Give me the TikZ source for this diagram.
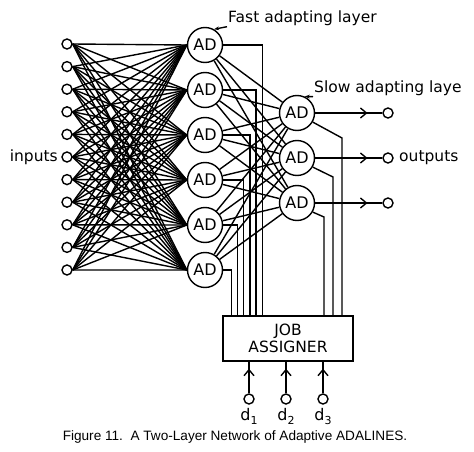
\documentclass[tikz,border=0pt]{standalone}
\usepackage{fontspec}
\setmainfont{DejaVu Sans}
\newfontfamily\capfont{Liberation Sans}
\usetikzlibrary{positioning,calc,arrows.meta,decorations.markings}

\tikzset{
    unit/.style={circle, draw, line width=1.4pt, minimum size=35pt, inner sep=0pt, font=\fontsize{16}{16}\selectfont},
    port/.style={circle, draw, line width=1.4pt, minimum size=10pt, inner sep=0pt},
    wire/.style={line width=1.4pt},
    midarr/.style={postaction={decorate}, decoration={markings,
        mark=at position #1 with {\arrow{Straight Barb[length=6pt,width=10pt,line width=1.4pt]}}}}
}

\begin{document}
\begin{tikzpicture}[x=1pt, y=-1pt, font=\fontsize{15.5}{15.5}\selectfont]
        \useasboundingbox (0,0) rectangle (474,452);

        % inputs and fast adapting layer
        \foreach \i in {1,...,11}
            \node[port] (in\i) at (67,{44+22.6*(\i-1)}) {};
        \foreach \j in {1,...,6}
            \node[unit] (f\j) at (205,{45*\j}) {AD};
        \foreach \i in {1,...,11}
            \foreach \j in {1,...,6}
                \draw[wire] (in\i.east) -- (f\j.west);
        \node[left=0pt of in6] (inlabel) {inputs};
        \node[anchor=west, inner sep=1pt] (fastlabel) at (227,18) {Fast adapting layer};
        \draw[wire, -{Stealth[length=5pt]}] (fastlabel.south west) -- (f1.60);

        % slow adapting layer
        \foreach \k/\y in {1/113, 2/158, 3/203} {
            \node[unit] (s\k) at (297,\y) {AD};
            \node[port] (o\k) at (388,\y) {};
            \draw[wire, midarr=0.78] (s\k.east) -- (o\k.west);
        }
        \foreach \i in {1,...,6}
            \foreach \k in {1,2,3}
                \draw[wire] (f\i) -- (s\k);
        \node[right=2pt of o2] (outlabel) {outputs};
        \node[anchor=west, inner sep=1pt] (slowlabel) at (313,88) {Slow adapting laye};
        \draw[wire, -{Stealth[length=5pt]}] (slowlabel.south west) -- (s1.65);

        % job assigner
        \node[draw, line width=1.4pt, minimum width=130pt, minimum height=45pt, align=center,
              font=\fontsize{15.5}{16.5}\selectfont] (job) at (288,338.5) {JOB\\ASSIGNER};
        \foreach \i in {1,...,6} {
            \path (job.north west) ++({9+6.2*(6-\i)},0) coordinate (t\i);
            \draw[wire] (f\i.east) -| (t\i);
        }
        \foreach \k/\dx/\dy in {1/45/25, 2/36/19, 3/27/14} {
            \path (s\k) ++(\dx,\dy) coordinate (b\k);
            \draw[wire] (s\k.-30) -- (b\k) -- (b\k |- job.north);
        }

        % desired responses
        \foreach \k/\x in {1/249, 2/286, 3/323} {
            \node[port] (d\k) at (\x,399) {};
            \draw[wire, midarr=0.78] (d\k.north) -- (d\k |- job.south);
            \node[below=0pt of d\k, font=\fontsize{16}{16}\selectfont] (dl\k) {d\raisebox{-0.45ex}{\fontsize{11}{11}\selectfont\k}};
        }

        \node[font=\capfont\fontsize{13.6}{14}\selectfont] (caption) at (235,437) {Figure 11.\ \ A Two-Layer Network of Adaptive ADALINES.};
    \end{tikzpicture}
\end{document}
